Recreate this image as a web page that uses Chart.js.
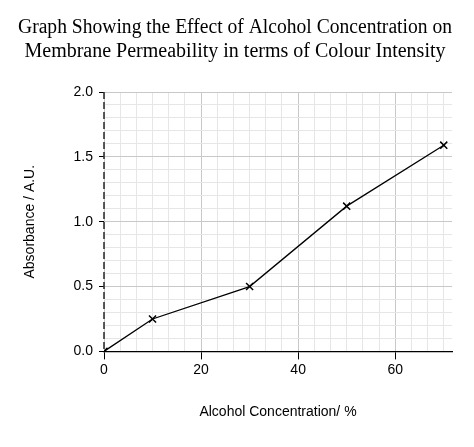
<!DOCTYPE html>
<html><head><script src="https://cdn.jsdelivr.net/npm/chart.js@4"></script>
<style>body{margin:0;background:#fff}#w{width:474px;height:447px}</style></head>
<body><div id="w"><canvas id="c"></canvas></div>
<script>
const concentrations=[0,10,30,50,70];
const absorbance=[0,0.25,0.5,1.12,1.59];
const xTickLabels=[0,20,40,60];
const yTickLabels=['0.0','0.5','1.0','1.5','2.0'];
const title=['Graph Showing the Effect of Alcohol Concentration on','Membrane Permeability in terms of Colour Intensity'];
const isMajor=(v,s)=>Math.abs(v/s-Math.round(v/s))<1e-6;
const dashedAxis={id:'dashedAxis',afterDatasetsDraw(ch){const a=ch.chartArea,ctx=ch.ctx;ctx.save();ctx.strokeStyle='#333';ctx.lineWidth=1.6;ctx.setLineDash([7,3]);
ctx.beginPath();ctx.moveTo(a.left,a.top);ctx.lineTo(a.left,a.bottom);ctx.stroke();ctx.restore();}};
new Chart(document.getElementById('c'),{
type:'scatter',
plugins:[dashedAxis],
data:{datasets:[{data:concentrations.map((x,i)=>({x,y:absorbance[i]})),showLine:true,borderColor:'#000',borderWidth:1.3,
pointStyle:'crossRot',pointRadius:5,pointBorderWidth:1.5,pointBorderColor:'#000',tension:0}]},
options:{responsive:true,maintainAspectRatio:false,animation:false,
layout:{padding:{left:18,right:22,top:6,bottom:22}},
plugins:{legend:{display:false},tooltip:{enabled:false},
title:{display:true,text:title,color:'#000',font:{family:'Liberation Serif',size:20,weight:'normal'},padding:{top:10,bottom:28},lineHeight:1.2}},
scales:{
x:{type:'linear',min:0,max:71.7,
afterBuildTicks:a=>{const t=[];for(let i=0;i<=21;i++)t.push({value:i*10/3});a.ticks=t;},
ticks:{autoSkip:false,maxRotation:0,color:'#000',font:{family:'Liberation Sans',size:14},padding:2,
callback:v=>{const r=Math.round(v);return (Math.abs(v-r)<1e-6&&r%20===0)?String(r):'';}},
grid:{color:c=>{const v=c.tick?c.tick.value:0;return isMajor(v,20)?'#c8c8c8':'#e6e6e6'},
tickColor:c=>{const v=c.tick?c.tick.value:0;return isMajor(v,20)?'#000':'rgba(0,0,0,0)'},tickLength:8,lineWidth:1},
border:{color:'#000',width:1.3},
title:{display:true,text:'Alcohol Concentration/ %',color:'#000',font:{family:'Liberation Sans',size:14},padding:{top:24}}},
y:{type:'linear',min:0,max:2,
afterBuildTicks:a=>{const t=[];for(let i=0;i<=20;i++)t.push({value:i/10});a.ticks=t;},
afterFit:s=>{s.width=86;},
ticks:{autoSkip:false,color:'#000',font:{family:'Liberation Sans',size:14},padding:6,
callback:v=>{const k=Math.round(v*10);return k%5===0?(k/10).toFixed(1):'';}},
grid:{color:c=>{const v=c.tick?c.tick.value:0;return isMajor(v,0.5)?'#c8c8c8':'#e6e6e6'},
tickColor:c=>{const v=c.tick?c.tick.value:0;return isMajor(v,0.5)?'#000':'rgba(0,0,0,0)'},tickLength:5},
border:{display:false},
title:{display:true,text:'Absorbance / A.U.',color:'#000',font:{family:'Liberation Sans',size:14},padding:{bottom:14}}}
}}});
</script></body></html>
